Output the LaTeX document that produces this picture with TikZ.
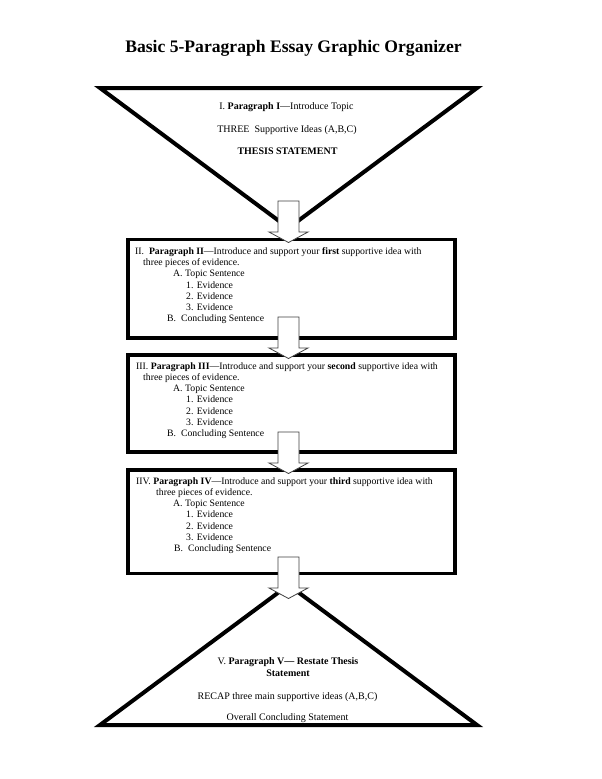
\documentclass[tikz,border=0pt]{standalone}
\usepackage{fontspec}
\setmainfont{Liberation Serif}
\begin{document}
\begin{tikzpicture}[x=1pt,y=-1pt,
  tri/.style={draw=black, line width=4pt, line join=miter, fill=white},
  parbox/.style={draw=black, line width=3.8pt, fill=white, inner sep=0pt},
  barrow/.style={draw=black!75, line width=0.8pt, fill=white, line join=miter},
  txt/.style={font=\fontsize{10}{11.2}\selectfont, inner sep=0pt},
  boxtxt/.style={inner sep=0pt, font=\fontsize{9.75}{11.2}\selectfont, align=left, anchor=north west},
  blockarr/.pic={\draw[barrow] (-10.5,0) -- (10.5,0) -- (10.5,31) -- (19.5,31) -- (0,41.5) -- (-19.5,31) -- (-10.5,31) -- cycle;}
]
\useasboundingbox (0,0) rectangle (602,779);
% title
\node[inner sep=0pt, anchor=base, font=\fontsize{17.6}{20}\selectfont\bfseries] (title) at (293.5,52) {Basic 5-Paragraph Essay Graphic Organizer};
% top triangle
\coordinate (t1) at (100,88);
\coordinate (t2) at (477,88);
\coordinate (t3) at (288.5,228);
\draw[tri] (t1) -- (t2) -- (t3) -- cycle;
\node[txt, anchor=base] (p1a) at (286.5,109.5) {I. \textbf{Paragraph I}—Introduce Topic};
\node[txt, anchor=base] (p1b) at (287,132.5) {THREE\ \ Supportive Ideas (A,B,C)};
\node[txt, anchor=base] (p1c) at (287.5,154) {\textbf{THESIS STATEMENT}};
% paragraph boxes
\node[parbox, minimum width=326.5pt, minimum height=98.5pt] (p2) at (291.5,288.75) {};
\node[boxtxt] (p2t) at (135,247.4) {II.\ \ \textbf{Paragraph II}—Introduce and support your \textbf{first} supportive idea with\\
\hspace*{8pt}three pieces of evidence.\\
\hspace*{38pt}A. Topic Sentence\\
\hspace*{51pt}1. Evidence\\
\hspace*{51pt}2. Evidence\\
\hspace*{51pt}3. Evidence\\
\hspace*{32pt}B.\ \ Concluding Sentence};
\node[parbox, minimum width=326.5pt, minimum height=97pt] (p3) at (291.5,403.5) {};
\node[boxtxt] (p3t) at (136,362.4) {III. \textbf{Paragraph III}—Introduce and support your \textbf{second} supportive idea with\\
\hspace*{7pt}three pieces of evidence.\\
\hspace*{37pt}A. Topic Sentence\\
\hspace*{50pt}1. Evidence\\
\hspace*{50pt}2. Evidence\\
\hspace*{50pt}3. Evidence\\
\hspace*{31pt}B.\ \ Concluding Sentence};
\node[parbox, minimum width=326.5pt, minimum height=103.5pt] (p4) at (291.5,521.75) {};
\node[boxtxt] (p4t) at (136,477.4) {IIV. \textbf{Paragraph IV}—Introduce and support your \textbf{third} supportive idea with\\
\hspace*{20pt}three pieces of evidence.\\
\hspace*{37pt}A. Topic Sentence\\
\hspace*{50pt}1. Evidence\\
\hspace*{50pt}2. Evidence\\
\hspace*{50pt}3. Evidence\\
\hspace*{38pt}B.\ \ Concluding Sentence};
% bottom triangle
\coordinate (b1) at (100,725);
\coordinate (b2) at (477,725);
\coordinate (b3) at (288.5,585);
\draw[tri] (b1) -- (b3) -- (b2) -- cycle;
\node[txt, anchor=base] (p5a) at (288,664) {V. \textbf{Paragraph V— Restate Thesis}};
\node[txt, anchor=base] (p5b) at (288,676) {\textbf{Statement}};
\node[txt, anchor=base] (p5c) at (287.5,699) {RECAP three main supportive ideas (A,B,C)};
\node[txt, anchor=base] (p5d) at (287.5,720.5) {Overall Concluding Statement};
% block arrows
\pic at (288.5,201) {blockarr};
\pic at (288.5,317) {blockarr};
\pic at (288.5,432) {blockarr};
\pic at (288.5,557) {blockarr};
\end{tikzpicture}
\end{document}
